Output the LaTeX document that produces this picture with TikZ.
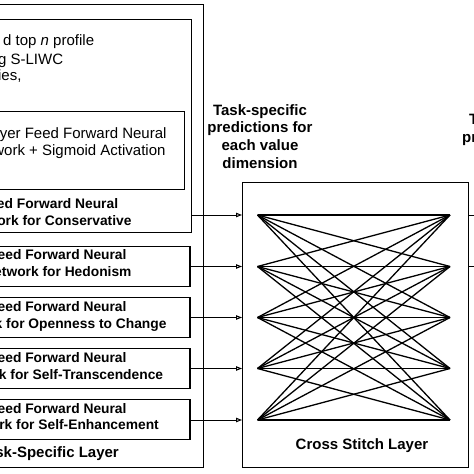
\documentclass[tikz,border=0pt]{standalone}
\usepackage{fontspec}
\setmainfont{Liberation Sans}
\usetikzlibrary{arrows.meta,positioning}

\tikzset{
  box/.style={draw, line width=1.2pt, inner sep=0pt},
  bigtxt/.style={font=\fontsize{15}{17.7}\selectfont, inner sep=0pt},
  bigbold/.style={font=\fontsize{15}{17.7}\selectfont\bfseries, inner sep=0pt},
  netlbl/.style={font=\fontsize{13.8}{16.5}\selectfont\bfseries, inner sep=0pt, anchor=base east},
  flow/.style={line width=1pt, -{Triangle[open,length=6pt,width=4.5pt]}},
  stitch/.style={line width=1.3pt}
}

\begin{document}
\begin{tikzpicture}[x=1pt,y=-1pt]
\useasboundingbox (0,0) rectangle (474,474);
\clip (0,0) rectangle (474,474);

% task-specific layer
\node[box, anchor=north east, minimum width=420pt, minimum height=463pt] (tsl) at (204,4) {};
\node[box, anchor=north east, minimum width=400pt, minimum height=213pt] (cons) at (192,19) {};
\node[box, anchor=north east, minimum width=390pt, minimum height=78pt] (sig) at (185,111) {};
\node[box, anchor=north east, minimum width=400pt, minimum height=40pt] (hed) at (190.5,246) {};
\node[box, anchor=north east, minimum width=400pt, minimum height=40pt] (open) at (190.5,297) {};
\node[box, anchor=north east, minimum width=400pt, minimum height=40pt] (trans) at (190.5,348) {};
\node[box, anchor=north east, minimum width=400pt, minimum height=40pt] (enh) at (190.5,399) {};

\node[bigtxt, anchor=base east] (in1) at (94.3,45.7) {d top \textit{n} profile};
\node[bigtxt, anchor=base east] (in2) at (63.3,64) {g S-LIWC};
\node[bigtxt, anchor=base east] (in3) at (21.7,80.7) {ies,};
\node[bigtxt, anchor=base east] (sig1) at (166.7,138) {yer Feed Forward Neural};
\node[bigtxt, anchor=base east] (sig2) at (165.7,155.7) {work + Sigmoid Activation};

\node[netlbl] (cons1) at (118.3,208) {ed Forward Neural};
\node[netlbl] (cons2) at (131.7,225.5) {ork for Conservative};
\node[netlbl] (hed1) at (126.7,259) {eed Forward Neural};
\node[netlbl] (hed2) at (131.7,276) {etwork for Hedonism};
\node[netlbl] (open1) at (126.7,311) {eed Forward Neural};
\node[netlbl] (open2) at (166.7,328) {k for Openness to Change};
\node[netlbl] (trans1) at (126.7,362) {eed Forward Neural};
\node[netlbl] (trans2) at (163.3,379) {rk for Self-Transcendence};
\node[netlbl] (enh1) at (126.7,413) {eed Forward Neural};
\node[netlbl] (enh2) at (159,429.5) {rk for Self-Enhancement};
\node[bigbold, anchor=base east] (tsllbl) at (119,457) {sk-Specific Layer};

% cross stitch layer
\node[box, anchor=north west, minimum width=226pt, minimum height=285pt] (cs) at (242,182) {};
\foreach \i/\y in {1/215,2/266.5,3/317.5,4/368.5,5/420} {
  \coordinate (l\i) at (257.5,\y);
  \coordinate (r\i) at (450,\y);
}
\foreach \i in {1,...,5}
  \foreach \j in {1,...,5}
    \draw[stitch] (l\i) -- (r\j);
\node[bigbold] (cslbl) at (362,446) {Cross Stitch Layer};

\draw[flow] (cons.east |- l1) -- (cs.west |- l1);
\draw[flow] (hed.east |- l2) -- (cs.west |- l2);
\draw[flow] (open.east |- l3) -- (cs.west |- l3);
\draw[flow] (trans.east |- l4) -- (cs.west |- l4);
\draw[flow] (enh.east |- l5) -- (cs.west |- l5);

\coordinate (out) at (490,0);
\draw[line width=1pt] (cs.east |- r1) -- (out |- r1);
\draw[line width=1pt] (cs.east |- r2) -- (out |- r2);

% labels above
\node[bigbold, align=center, anchor=north] (pred) at (260,104) {Task-specific\\predictions for\\each value\\dimension};
\node[bigbold, anchor=base west] (fin1) at (469,124) {T};
\node[bigbold, anchor=base west] (fin2) at (462,142) {pr};
\end{tikzpicture}
\end{document}
